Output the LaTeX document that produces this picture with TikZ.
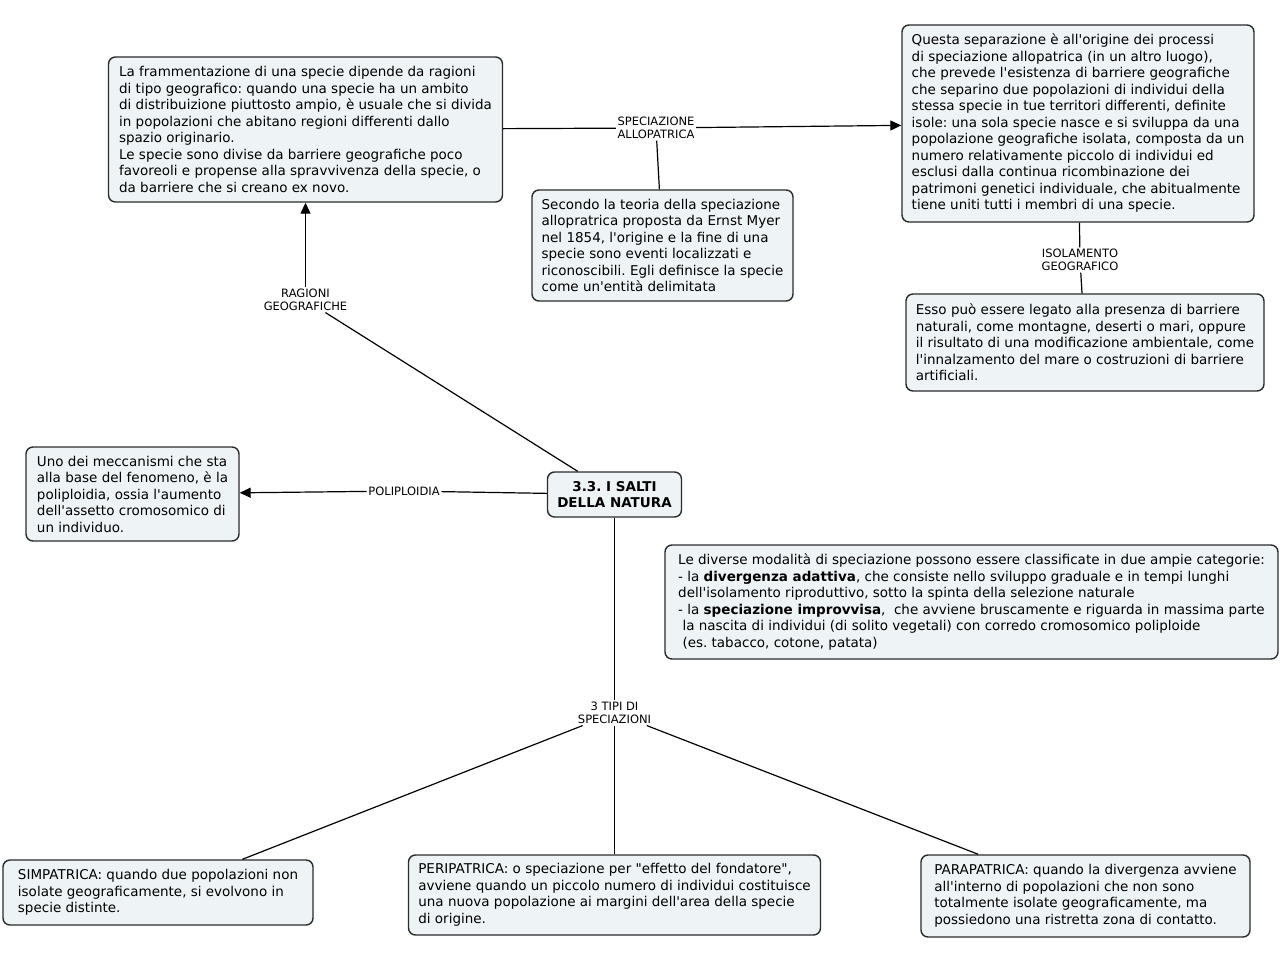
\documentclass[tikz,border=0pt]{standalone}
\usepackage{fontspec}
\newfontfamily\mapfont{DejaVu Sans}
\usetikzlibrary{arrows.meta}
\definecolor{boxfill}{HTML}{EEF3F5}
\definecolor{boxline}{HTML}{2B2B2B}
\tikzset{
    concept/.style={rectangle, rounded corners=7pt, draw=boxline, fill=boxfill,
        line width=1.4pt, align=left, inner sep=0pt,
        font=\mapfont\fontsize{13.5}{16.5}\selectfont},
    linklabel/.style={fill=white, inner sep=1.5pt, align=center,
        font=\mapfont\fontsize{11.5}{13}\selectfont},
    link/.style={line width=1.2pt, draw=black},
    linkto/.style={link, -{Triangle[length=11pt,width=10pt]}}
}
\frenchspacing

\begin{document}
\begin{tikzpicture}[x=1pt, y=-1pt]
	\useasboundingbox (0,0) rectangle (1280,963);
	\node [concept, minimum width=394, minimum height=145] (frag) at (305.5,129.5) {La frammentazione di una specie dipende da ragioni\\di tipo geografico: quando una specie ha un ambito\\di distribuizione piuttosto ampio, è usuale che si divida\\in popolazioni che abitano regioni differenti dallo\\spazio originario.\\Le specie sono divise da barriere geografiche poco\\favoreoli e propense alla spravvivenza della specie, o\\da barriere che si creano ex novo.};
	\node [concept, minimum width=352, minimum height=197] (allo) at (1078,123.5) {Questa separazione è all'origine dei processi\\di speciazione allopatrica (in un altro luogo),\\che prevede l'esistenza di barriere geografiche\\che separino due popolazioni di individui della\\stessa specie in tue territori differenti, definite\\isole: una sola specie nasce e si sviluppa da una\\popolazione geografiche isolata, composta da un\\numero relativamente piccolo di individui ed\\esclusi dalla continua ricombinazione dei\\patrimoni genetici individuale, che abitualmente\\tiene uniti tutti i membri di una specie.};
	\node [concept, minimum width=261, minimum height=111] (myer) at (662.5,245.5) {Secondo la teoria della speciazione\\allopratrica proposta da Ernst Myer\\nel 1854, l'origine e la fine di una\\specie sono eventi localizzati e\\riconoscibili. Egli definisce la specie\\come un'entità delimitata};
	\node [concept, minimum width=358, minimum height=97] (isol) at (1085,342.5) {Esso può essere legato alla presenza di barriere\\naturali, come montagne, deserti o mari, oppure\\il risultato di una modificazione ambientale, come\\l'innalzamento del mare o costruzioni di barriere\\artificiali.};
	\node [concept, minimum width=213, minimum height=94] (poli) at (132.5,494) {Uno dei meccanismi che sta\\alla base del fenomeno, è la\\poliploidia, ossia l'aumento\\dell'assetto cromosomico di\\un individuo.};
	\node [concept, align=center, minimum width=134, minimum height=45, font=\mapfont\bfseries\fontsize{13.5}{16.5}\selectfont] (root) at (614.5,494.5) {3.3. I SALTI\\DELLA NATURA};
	\node [concept, minimum width=613, minimum height=114] (modi) at (971.5,602) {Le diverse modalità di speciazione possono essere classificate in due ampie categorie:\\- la \textbf{divergenza adattiva}, che consiste nello sviluppo graduale e in tempi lunghi\\dell'isolamento riproduttivo, sotto la spinta della selezione naturale\\- la \textbf{speciazione improvvisa},\ \ che avviene bruscamente e riguarda in massima parte\\\ la nascita di individui (di solito vegetali) con corredo cromosomico poliploide\\\ (es. tabacco, cotone, patata)};
	\node [concept, minimum width=310, minimum height=65] (simp) at (158,892.5) {SIMPATRICA: quando due popolazioni non\\isolate geograficamente, si evolvono in\\specie distinte.};
	\node [concept, minimum width=412, minimum height=80] (peri) at (614.5,895) {PERIPATRICA: o speciazione per "effetto del fondatore",\\avviene quando un piccolo numero di individui costituisce\\una nuova popolazione ai margini dell'area della specie\\di origine.};
	\node [concept, minimum width=329, minimum height=82] (para) at (1085.5,896) {PARAPATRICA: quando la divergenza avviene\\all'interno di popolazioni che non sono\\totalmente isolate geograficamente, ma\\possiedono una ristretta zona di contatto.};
	\node [linklabel] (l-allo) at (656,128) {SPECIAZIONE\\ALLOPATRICA};
	\node [linklabel] (l-geo) at (305.5,300) {RAGIONI\\GEOGRAFICHE};
	\node [linklabel] (l-poli) at (404,491) {POLIPLOIDIA};
	\node [linklabel] (l-isol) at (1080,260) {ISOLAMENTO\\GEOGRAFICO};
	\node [linklabel] (l-tipi) at (614.5,713) {3 TIPI DI\\SPECIAZIONI};
	\draw [link] (frag) -- (l-allo);
	\draw [linkto] (l-allo) -- (allo);
	\draw [link] (l-allo) -- (myer);
	\draw [link] (allo) -- (l-isol) -- (isol);
	\draw [link] (root) -- (l-geo);
	\draw [linkto] (l-geo) -- (frag);
	\draw [link] (root) -- (l-poli);
	\draw [linkto] (l-poli) -- (poli);
	\draw [link] (root) -- (l-tipi);
	\draw [link] (l-tipi) -- (simp);
	\draw [link] (l-tipi) -- (peri);
	\draw [link] (l-tipi) -- (para);
\end{tikzpicture}
\end{document}
